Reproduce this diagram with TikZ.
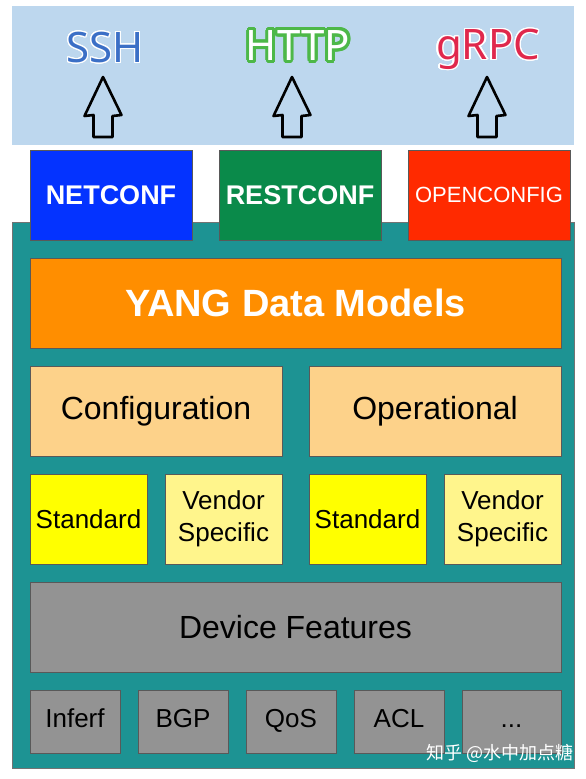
\documentclass[tikz,border=0pt]{standalone}
\usepackage{fontspec}
\setmainfont{Liberation Sans}
\newfontfamily\toplabel{Noto Sans}
\newfontfamily\cjk{Noto Sans CJK SC}
\usepackage{xcolor}
\usepackage{contour}
\usetikzlibrary{calc,backgrounds,positioning}

\definecolor{bandblue}{HTML}{BDD7EE}
\definecolor{tealbg}{HTML}{1D9393}
\definecolor{ncblue}{HTML}{0433FF}
\definecolor{rcgreen}{HTML}{0A8A4A}
\definecolor{ocred}{HTML}{FF2A00}
\definecolor{yangorange}{HTML}{FF8E00}
\definecolor{cfgorange}{HTML}{FDD28A}
\definecolor{stdyellow}{HTML}{FFFF00}
\definecolor{venyellow}{HTML}{FFF58C}
\definecolor{featgray}{HTML}{939393}
\definecolor{sshblue}{HTML}{3B6FC6}
\definecolor{httpgreen}{HTML}{4DB848}
\definecolor{grpcred}{HTML}{E0284C}

\newcommand{\fs}[1]{\fontsize{#1}{\dimexpr #1pt*5/4\relax}\selectfont}
\contournumber{24}

\begin{document}
\begin{tikzpicture}[x=1pt, y=-1pt,
       layerbox/.style 2 args = {rectangle, minimum width=#1, minimum height=90,
                                 inner sep=0pt, draw=black!65, line width=0.8pt,
                                 fill=#2, align=center},
       featbox/.style = {layerbox={#1}{featgray}, minimum height=63, font=\fs{26},
                         text height=18pt, text depth=6pt},
       protolabel/.style = {font=\toplabel\fs{42}, inner sep=0pt},
       hollowarrow/.style = {draw=black, line width=2.6pt, line join=round}]
	\useasboundingbox[fill=white] (0,0) rectangle (586,779);
	%% Transport band and model container
	\fill[bandblue] (12,6) rectangle (574,145);
	\draw[fill=tealbg, draw=black!55, line width=0.8pt] (12,222) rectangle (574,768);
	%% Transports
	\node [protolabel] (ssh) at (105,48) {\contourlength{1.2pt}\contour{white}{\textcolor{sshblue}{SSH}}};
	\node [protolabel] (http) at (298,47) {\contourlength{3pt}\contour{httpgreen}{\textcolor{white}{HTTP}}};
	\node [protolabel] (grpc) at (488,50) {\contourlength{1.2pt}\contour{white}{\textcolor{grpcred}{gRPC}}};
	\foreach \ax in {103,292,487}
		\draw[hollowarrow, shift={(\ax,137)}] (-9.5,0) -- (-9.5,-22) -- (-18.5,-21)
		      -- (0,-60) -- (18.5,-22) -- (9.5,-21) -- (9.5,0) -- cycle;
	%% Protocols
	\node [layerbox={162}{ncblue}, text=white, font=\bfseries\fs{27}] (netconf) at (111,195) {NETCONF};
	\node [layerbox={162}{rcgreen}, text=white, font=\bfseries\fs{27}] (restconf) at (300,195) {RESTCONF};
	\node [layerbox={162}{ocred}, text=white, font=\fs{22}] (openconfig) at (489,195) {OPENCONFIG};
	%% Models
	\node [layerbox={531}{yangorange}, text=white, font=\bfseries\fs{38}] (yang) at (295.5,303) {YANG Data Models};
	\node [layerbox={252}{cfgorange}, font=\fs{32}] (config) at (156,411) {Configuration};
	\node [layerbox={252}{cfgorange}, font=\fs{32}] (oper) at (435,411) {Operational};
	\node [layerbox={117}{stdyellow}, font=\fs{26}] (stdcfg) at (88.5,519) {Standard};
	\node [layerbox={117}{venyellow}, font=\fs{26}] (vencfg) at (223.5,519) {Vendor\\Specific};
	\node [layerbox={117}{stdyellow}, font=\fs{26}] (stdoper) at (367.5,519) {Standard};
	\node [layerbox={117}{venyellow}, font=\fs{26}] (venoper) at (502.5,519) {Vendor\\Specific};
	%% Device features
	\node [layerbox={531}{featgray}, font=\fs{32}] (device) at (295.5,627) {Device Features};
	\node [featbox={90}] (intf) at (75,721.5) {Inferf};
	\node [featbox={90}] (bgp) at (183,721.5) {BGP};
	\node [featbox={90}] (qos) at (291,721.5) {QoS};
	\node [featbox={90}] (acl) at (399,721.5) {ACL};
	\node [featbox={99}] (more) at (511.5,721.5) {...};
	\node [font=\cjk\fs{18}, text=white, anchor=west, inner sep=0pt] (mark) at (426,753) {知乎 @水中加点糖};
\end{tikzpicture}
\end{document}
